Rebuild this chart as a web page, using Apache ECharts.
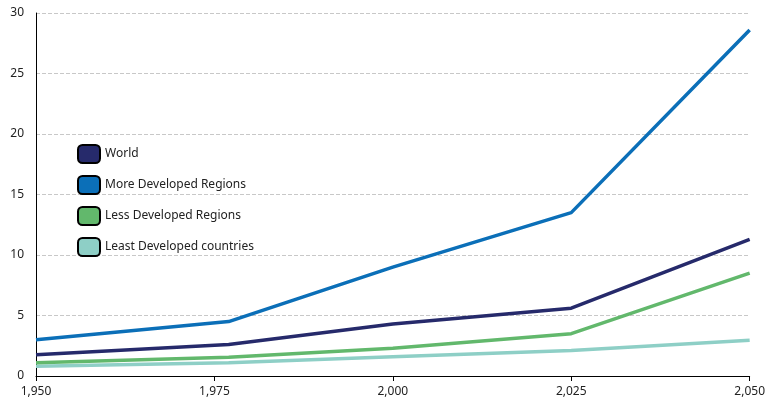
<!DOCTYPE html>
<html>
<head>
<meta charset="utf-8">
<script src="https://cdn.jsdelivr.net/npm/echarts@6/dist/echarts.min.js"></script>
<style>html,body{margin:0;padding:0;background:#fff}#chart{width:768px;height:412px}</style>
</head>
<body>
<div id="chart"></div>
<script>
const years = [1950, 1977, 2000, 2025, 2050];
const world = [1.75, 2.6, 4.3, 5.6, 11.3];
const moreDeveloped = [3.0, 4.5, 9.0, 13.5, 28.6];
const lessDeveloped = [1.1, 1.55, 2.3, 3.5, 8.5];
const leastDeveloped = [0.8, 1.1, 1.6, 2.1, 2.95];

const names = ['World', 'More Developed Regions', 'Less Developed Regions', 'Least Developed countries'];
const colors = ['#262a6b', '#0b6fb8', '#62b86c', '#8ecfc6'];
const values = [world, moreDeveloped, lessDeveloped, leastDeveloped];

const chart = echarts.init(document.getElementById('chart'));
chart.setOption({
  animation: false,
  textStyle: { fontFamily: 'Noto Sans' },
  grid: { left: 36, right: 17, top: 13, bottom: 36 },
  legend: {
    orient: 'vertical', left: 72, top: 139, itemGap: 11,
    itemWidth: 22, itemHeight: 18, icon: 'roundRect',
    textStyle: { fontSize: 12, color: '#222' },
    data: names
  },
  xAxis: {
    type: 'value', min: 1950, max: 2050, interval: 25,
    axisLine: { lineStyle: { color: '#000' } },
    axisTick: { show: true, length: 5, lineStyle: { color: '#000' } },
    axisLabel: { color: '#222', fontSize: 12, margin: 10 },
    splitLine: { show: false }
  },
  yAxis: {
    type: 'value', min: 0, max: 30, interval: 5,
    axisLine: { show: true, lineStyle: { color: '#000' } },
    axisTick: { show: false },
    axisLabel: { color: '#222', fontSize: 12, margin: 12 },
    splitLine: { lineStyle: { color: '#c8c8c8', type: 'dashed' } }
  },
  series: names.map((n, i) => ({
    name: n, type: 'line', showSymbol: false, symbol: 'none',
    itemStyle: { color: colors[i], borderColor: '#000', borderWidth: 1 },
    lineStyle: { color: colors[i], width: 3.5 },
    data: years.map((y, j) => [y, values[i][j]])
  })).reverse()
});
</script>
</body>
</html>
